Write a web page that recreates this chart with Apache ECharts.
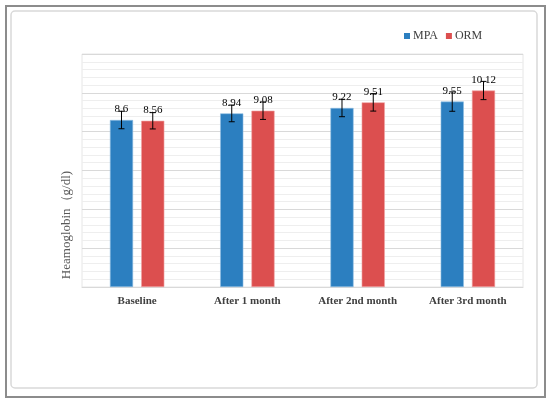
<!DOCTYPE html>
<html>
<head>
<meta charset="utf-8">
<script src="https://cdn.jsdelivr.net/npm/echarts@6/dist/echarts.min.js"></script>
<style>
html,body{margin:0;padding:0;background:#fff;}
#chart{width:550px;height:402px;}
</style>
</head>
<body>
<div id="chart"></div>
<script>
var categories = ['Baseline', 'After 1 month', 'After 2nd month', 'After 3rd month'];
var mpaValues = [8.6, 8.94, 9.22, 9.55];
var ormValues = [8.56, 9.08, 9.51, 10.12];
var mpaErrors = [0.45, 0.43, 0.45, 0.5];
var ormErrors = [0.42, 0.45, 0.45, 0.47];
var seriesNames = ['MPA', 'ORM'];
var yAxisTitle = 'Heamoglobin（g/dl)';

var BAR_PCT = 0.21, GAP_PCT = 0.35;
var SERIF = '"Liberation Serif", "Times New Roman", serif';

function errData(vals, errs) {
  return vals.map(function (v, i) { return [i, v, errs[i]]; });
}
function errRenderer(sign) {
  return function (params, api) {
    var idx = api.value(0), v = api.value(1), e = api.value(2);
    var band = api.size([1, 0])[0];
    var off = sign * band * BAR_PCT * (1 + GAP_PCT) / 2;
    var top = api.coord([idx, v + e]);
    var bot = api.coord([idx, v - e]);
    var x = top[0] + off;
    var cap = 3;
    var st = { stroke: '#000', lineWidth: 1 };
    return {
      type: 'group',
      children: [
        { type: 'line', shape: { x1: x, y1: top[1], x2: x, y2: bot[1] }, style: st },
        { type: 'line', shape: { x1: x - cap, y1: top[1], x2: x + cap, y2: top[1] }, style: st },
        { type: 'line', shape: { x1: x - cap, y1: bot[1], x2: x + cap, y2: bot[1] }, style: st }
      ]
    };
  };
}

var chart = echarts.init(document.getElementById('chart'));
chart.setOption({
  animation: false,
  backgroundColor: '#fff',
  graphic: [
    { type: 'rect', shape: { x: 6, y: 6, width: 539, height: 391 }, style: { fill: 'none', stroke: '#8c8c8c', lineWidth: 2 }, z: -10 },
    { type: 'rect', shape: { x: 11, y: 11, width: 526, height: 377, r: 4 }, style: { fill: 'none', stroke: '#d9d9d9', lineWidth: 1.5 }, z: -10 },
    { type: 'text', x: 67, y: 225, rotation: Math.PI / 2, style: { text: yAxisTitle, font: '13px ' + SERIF, fill: '#595959', align: 'center', verticalAlign: 'middle' } }
  ],
  legend: {
    data: seriesNames,
    left: 399, top: 25,
    icon: 'rect', itemWidth: 6, itemHeight: 6, itemGap: 8,
    itemStyle: { borderWidth: 0 },
    textStyle: { fontFamily: SERIF, fontSize: 12, color: '#404040', padding: [0, 0, 0, -2] }
  },
  grid: { left: 82, right: 27, top: 54, bottom: 115, show: true, borderColor: '#e6e6e6', borderWidth: 1 },
  xAxis: {
    type: 'category', data: categories,
    axisLine: { show: true, lineStyle: { color: '#d9d9d9' } },
    axisTick: { show: false },
    axisLabel: { fontFamily: SERIF, fontWeight: 'bold', fontSize: 11, color: '#404040', margin: 9 }
  },
  yAxis: {
    type: 'value', min: 0, max: 12, interval: 2,
    axisLine: { show: false }, axisTick: { show: false }, axisLabel: { show: false },
    splitLine: { show: true, lineStyle: { color: '#d9d9d9' } },
    minorTick: { show: false, splitNumber: 5 },
    minorSplitLine: { show: true, lineStyle: { color: '#eeeeee' } }
  },
  series: [
    {
      name: seriesNames[0], type: 'bar', data: mpaValues,
      barWidth: (BAR_PCT * 100) + '%', barGap: (GAP_PCT * 100) + '%',
      itemStyle: { color: '#2c7fc0', borderColor: '#8fbde3', borderWidth: 0.6 },
      label: { show: true, position: 'top', fontFamily: SERIF, fontSize: 11, color: '#000', distance: 5 },
      z: 2
    },
    {
      name: seriesNames[1], type: 'bar', data: ormValues,
      barWidth: (BAR_PCT * 100) + '%', barGap: (GAP_PCT * 100) + '%',
      itemStyle: { color: '#dc4f4f', borderColor: '#f0a5a5', borderWidth: 0.6 },
      label: { show: true, position: 'top', fontFamily: SERIF, fontSize: 11, color: '#000', distance: 5 },
      z: 2
    },
    {
      type: 'custom', name: 'mpaErr', data: errData(mpaValues, mpaErrors),
      renderItem: errRenderer(-1), encode: { x: 0, y: 1 }, z: 5, silent: true
    },
    {
      type: 'custom', name: 'ormErr', data: errData(ormValues, ormErrors),
      renderItem: errRenderer(1), encode: { x: 0, y: 1 }, z: 5, silent: true
    }
  ]
});
</script>
</body>
</html>
